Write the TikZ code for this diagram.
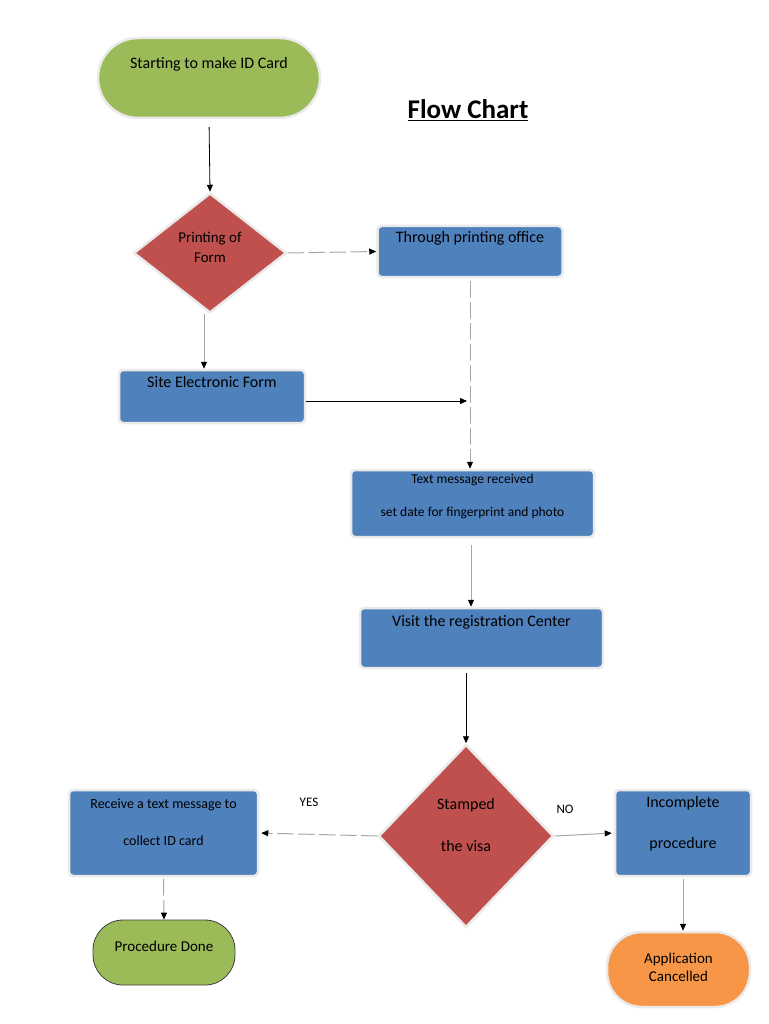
\documentclass[tikz,border=0pt]{standalone}
\usepackage{fontspec}
\setmainfont{Carlito}
\usetikzlibrary{shapes.geometric,arrows.meta}
\definecolor{boxblue}{HTML}{4F81BD}
\definecolor{dred}{HTML}{C0504D}
\definecolor{tgreen}{HTML}{9BBB59}
\definecolor{torange}{HTML}{F79646}
\definecolor{rimgray}{HTML}{EAEAEA}
\newcommand{\fsz}[2]{\fontsize{#1}{#2}\selectfont}

\begin{document}
\begin{tikzpicture}[x=1pt,y=-1pt,line cap=round,line join=round,
  >={Triangle[length=7pt,width=6pt,color=black]},
  bluebox/.style={rectangle,rounded corners=4pt,fill=boxblue,draw=rimgray,line width=2.5pt,inner sep=0pt},
  redgem/.style={diamond,fill=dred,draw=rimgray,line width=2.5pt,inner sep=0pt},
  term/.style={rectangle,fill=#1,draw=rimgray,line width=2.5pt,inner sep=0pt},
  darkline/.style={->,black,line width=0.8pt},
  lightline/.style={->,black!35,line width=1pt},
  dashline/.style={->,black!35,line width=1pt,dash pattern=on 16pt off 5pt}]
\useasboundingbox (0,0) rectangle (768,1024);

\node[term=tgreen,rounded corners=40pt,minimum width=222pt,minimum height=80pt,
  label={[font=\fsz{16}{19},yshift=14pt]center:Starting to make ID Card}] (start) at (209,78) {};
\node[font=\bfseries\fsz{27}{32}] (title) at (468,110) {\underline{Flow Chart}};

\node[redgem,minimum width=153pt,minimum height=120pt,
  label={[font=\fsz{15}{20},align=center,yshift=6pt]center:Printing of\\Form}] (form) at (210,253) {};
\node[bluebox,minimum width=185pt,minimum height=51pt,
  label={[font=\fsz{16}{19},yshift=13pt]center:Through printing office}] (through) at (470,251.5) {};
\node[bluebox,minimum width=186pt,minimum height=53pt,
  label={[font=\fsz{16}{19},yshift=14pt]center:Site Electronic Form}] (site) at (212,396.5) {};
\coordinate (join) at (467,401);
\node[bluebox,minimum width=243pt,minimum height=67pt,
  label={[font=\fsz{13.5}{33},align=center,yshift=7pt]center:Text message received\\set date for fingerprint and photo}] (textmsg) at (472.5,503.5) {};
\node[bluebox,minimum width=243pt,minimum height=60pt,
  label={[font=\fsz{16}{19},yshift=16pt]center:Visit the registration Center}] (visit) at (481.5,638) {};

\node[redgem,minimum width=175pt,minimum height=183pt,
  label={[font=\fsz{16}{42},align=center,yshift=11pt]center:Stamped\\the visa}] (stamp) at (466,836) {};
\node[bluebox,minimum width=189pt,minimum height=86pt,
  label={[font=\fsz{14}{37},align=center,yshift=11pt]center:Receive a text message to\\collect ID card}] (receive) at (163.5,833) {};
\node[bluebox,minimum width=136pt,minimum height=86pt,
  label={[font=\fsz{16}{41},align=center,yshift=9pt]center:Incomplete\\procedure}] (incomplete) at (683,833) {};
\node[font=\fsz{13}{15}] (yes) at (309,802) {YES};
\node[font=\fsz{13}{15}] (no) at (565,809) {NO};

\node[term=tgreen,rounded corners=30pt,draw=black!75,line width=0.8pt,minimum width=142pt,minimum height=65pt,
  label={[font=\fsz{15}{18},yshift=6pt]center:Procedure Done}] (done) at (164,952.5) {};
\node[term=torange,rounded corners=35pt,minimum width=143pt,minimum height=75pt,
  label={[font=\fsz{15}{18},align=center,yshift=2pt]center:Application\\Cancelled}] (cancel) at (678.5,969.5) {};

\draw[darkline,shorten <=8pt] (start.south) -- (form.north);
\draw[dashline] (form.east) -- (through.west);
\draw[lightline] ([xshift=-6pt]form.south) -- ([xshift=-6pt]form.south |- site.north);
\draw[darkline,line width=1pt] ([yshift=-4.5pt]site.east) -- (join);
\draw[dashline,shorten <=3pt] (through.south) -- (through.south |- textmsg.north);
\draw[lightline,shorten <=7pt] ([xshift=-1.5pt]textmsg.south) -- ([xshift=-1.5pt]textmsg.south |- visit.north);
\draw[darkline,shorten <=4pt] (stamp.north |- visit.south) -- (stamp.north);
\draw[dashline,shorten >=2pt] (stamp.west) -- (receive.east);
\draw[lightline,shorten >=2pt] (stamp.east) -- (incomplete.west);
\draw[dashline,shorten <=2pt] (receive.south) -- (done.north);
\draw[lightline,shorten <=2pt] (incomplete.south) -- (incomplete.south |- cancel.north);
\end{tikzpicture}
\end{document}
